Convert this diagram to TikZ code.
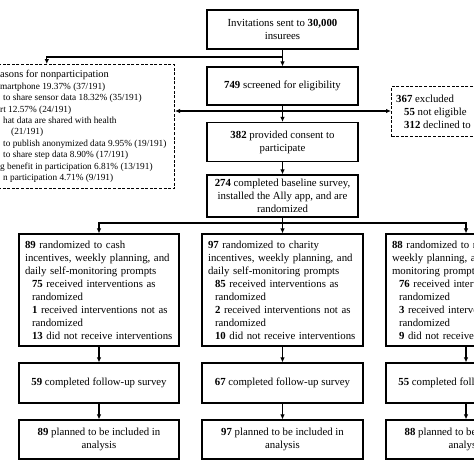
\documentclass[tikz,border=0pt]{standalone}
\usepackage{fontspec}
\setmainfont{Liberation Serif}
\usetikzlibrary{arrows.meta}
\newcommand\mainsz{\fontsize{10.8}{13}\selectfont}
\newcommand\smallsz{\fontsize{9.3}{11.4}\selectfont}
\newcommand\headsz{\fontsize{10.4}{11.4}\selectfont}
\begin{document}
\begin{tikzpicture}[x=1pt,y=-1pt,
  box/.style={draw, line width=1.2pt, align=center, inner xsep=3pt, inner ysep=2pt, font=\mainsz},
  rbox/.style={draw, line width=1.2pt, align=left, inner xsep=6pt, inner ysep=2pt, font=\mainsz, minimum height=112pt},
  dashbox/.style={draw, line width=1.2pt, dash pattern=on 3pt off 1.6pt, inner sep=0pt},
  conn/.style={line width=1.2pt},
  arr/.style={line width=1.2pt, -{Latex[length=5pt,width=4.5pt]}}]
\useasboundingbox (0,0) rectangle (474,474);
\clip (0,0) rectangle (474,474);
% main column
\node[box, minimum width=151pt, minimum height=39pt] (inv) at (282.5,29.5) {Invitations sent to \textbf{30,000}\\insurees};
\node[box, minimum width=151pt, minimum height=38pt] (scr) at (282.5,86) {\textbf{749} screened for eligibility};
\node[box, minimum width=151pt, minimum height=39pt] (cons) at (282.5,142) {\textbf{382} provided consent to\\participate};
\node[box, minimum width=151pt, minimum height=42pt] (base) at (282.5,196) {\textbf{274} completed baseline survey,\\installed the Ally app, and are\\randomized};
% side boxes
\node[dashbox, minimum width=181pt, minimum height=124pt, anchor=north east] (reasons) at (175,64) {};
\node[font=\smallsz, align=left, inner sep=0pt, anchor=west] (reasonslist) at (0,126.5) {{\headsz asons for nonparticipation}\\martphone 19.37\% (37/191)\\\hspace*{3pt}to share sensor data 18.32\% (35/191)\\rt 12.57\% (24/191)\\\hspace*{3pt}hat data are shared with health\\\hspace*{11pt}(21/191)\\\hspace*{3pt}to publish anonymized data 9.95\% (19/191)\\\hspace*{3pt}to share step data 8.90\% (17/191)\\g benefit in participation 6.81\% (13/191)\\\hspace*{3pt}n participation 4.71\% (9/191)};
\node[dashbox, minimum width=110pt, minimum height=50pt, anchor=north west] (excl) at (391,86) {};
\node[font=\mainsz, align=left, inner sep=0pt, anchor=west] (excltext) at (396,112) {\textbf{367} excluded\\\hspace*{8pt}\textbf{55} not eligible\\\hspace*{8pt}\textbf{312} declined to};
% arms
\node[rbox, text width=148pt] (rcash) at (99,290) {\textbf{89} randomized to cash\\incentives, weekly planning, and\\daily self-monitoring prompts\\\hspace*{7pt}\textbf{75} received interventions as\\\hspace*{7pt}randomized\\\hspace*{7pt}\textbf{1} received interventions not as\\\hspace*{7pt}randomized\\\hspace*{7pt}\textbf{13} did not receive interventions};
\node[rbox, text width=149pt] (rchar) at (282.5,290) {\textbf{97} randomized to charity\\incentives, weekly planning, and\\daily self-monitoring prompts\\\hspace*{7pt}\textbf{85} received interventions as\\\hspace*{7pt}randomized\\\hspace*{7pt}\textbf{2} received interventions not as\\\hspace*{7pt}randomized\\\hspace*{7pt}\textbf{10} did not receive interventions};
\node[rbox, text width=148pt] (rnone) at (466,290) {\textbf{88} randomized to no\\weekly planning, and\\monitoring prompts\\\hspace*{7pt}\textbf{76} received interventions\\\hspace*{7pt}randomized\\\hspace*{7pt}\textbf{3} received interventions\\\hspace*{7pt}randomized\\\hspace*{7pt}\textbf{9} did not receive};
\node[box, minimum width=160pt, minimum height=40pt] (fcash) at (99,383) {\textbf{59} completed follow-up survey};
\node[box, minimum width=161pt, minimum height=40pt] (fchar) at (282.5,383) {\textbf{67} completed follow-up survey};
\node[box, minimum width=160pt, minimum height=40pt] (fnone) at (466,383) {\textbf{55} completed follow-up survey};
\node[box, minimum width=160pt, minimum height=39pt] (pcash) at (99,439.5) {\textbf{89} planned to be included in\\analysis};
\node[box, minimum width=161pt, minimum height=39pt] (pchar) at (282.5,439.5) {\textbf{97} planned to be included in\\analysis};
\node[box, minimum width=160pt, minimum height=39pt] (pnone) at (466,439.5) {\textbf{88} planned to be included in\\analysis};
% connectors
\coordinate (b1) at (282.5,57);
\coordinate (b2) at (282.5,111);
\coordinate (dist) at (282.5,223);
\draw[arr] (inv) -- (scr);
\draw[arr] (b1) -| ([xshift=54pt]reasons.north west);
\draw[arr] (scr) -- (cons);
\draw[arr] (b2) -- (reasons.east |- b2);
\draw[arr] (b2) -- (excl.west |- b2);
\draw[arr] (cons) -- (base);
\draw[conn] (base) -- (dist);
\draw[arr] (dist) -| (rcash.north);
\draw[arr] (dist) -| (rnone.north);
\draw[arr] (dist) -- (rchar.north);
\draw[arr] (rcash) -- (fcash);
\draw[arr] (rchar) -- (fchar);
\draw[arr] (rnone) -- (fnone);
\draw[arr] (fcash) -- (pcash);
\draw[arr] (fchar) -- (pchar);
\draw[arr] (fnone) -- (pnone);
\end{tikzpicture}
\end{document}
